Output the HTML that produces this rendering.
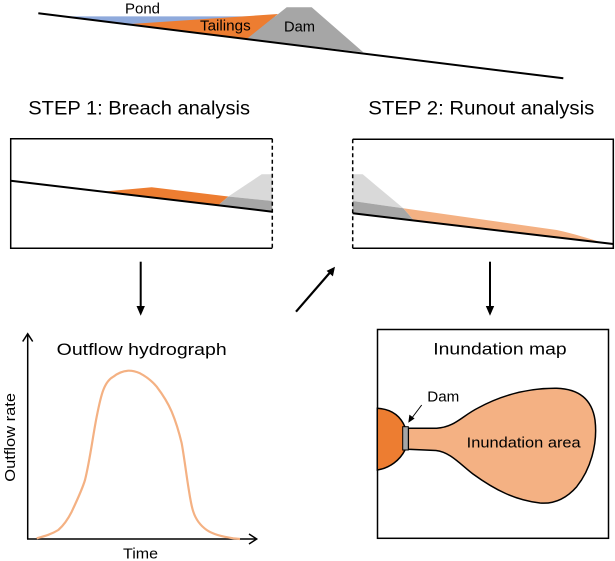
<!DOCTYPE html>
<html>
<head>
<meta charset="utf-8">
<style>
  html, body { margin:0; padding:0; background:#fff; }
  svg { display:block; }
  text { font-family: "Liberation Sans", sans-serif; fill:#000; }
</style>
</head>
<body>
<svg width="615" height="561" viewBox="0 0 615 561" xmlns="http://www.w3.org/2000/svg">
  <!-- ===== Top diagram ===== -->
  <polygon points="64,16.4 278,16.4 246.7,39.1 64,16.6" fill="#8FAADC"/>
  <polygon points="126.7,24.3 278,14 246.7,39.1" fill="#ED7D31"/>
  <polygon points="286.7,7.3 311.7,7.3 363.3,52.3 246.7,39.1" fill="#A6A6A6"/>
  <line x1="38.3" y1="13.3" x2="563.3" y2="78.3" stroke="#000" stroke-width="2"/>
  <text x="125" y="13.5" font-size="14.7" textLength="35" lengthAdjust="spacingAndGlyphs">Pond</text>
  <text x="200" y="30.7" font-size="14.7" textLength="50.7" lengthAdjust="spacingAndGlyphs">Tailings</text>
  <text x="284" y="31.7" font-size="14.7" textLength="31" lengthAdjust="spacingAndGlyphs">Dam</text>

  <!-- ===== Headings ===== -->
  <text x="28.3" y="114.7" font-size="19.3" textLength="221.7" lengthAdjust="spacingAndGlyphs">STEP 1: Breach analysis</text>
  <text x="368.3" y="114.7" font-size="19.3" textLength="226" lengthAdjust="spacingAndGlyphs">STEP 2: Runout analysis</text>

  <!-- ===== Step 1 box ===== -->
  <polygon points="103.3,191.6 151.7,187.3 228.3,196.5 218.3,205.3" fill="#ED7D31"/>
  <polygon points="228.3,196.5 261.7,174.3 272.3,174.3 272.3,201 " fill="#D9D9D9"/>
  <polygon points="228.3,196.5 272.3,201 272.3,211.7 218.3,205.3" fill="#A6A6A6"/>
  <line x1="10.7" y1="180.7" x2="272.3" y2="211.7" stroke="#000" stroke-width="2"/>
  <polyline points="272.3,138.7 10.7,138.7 10.7,248.3 272.3,248.3" fill="none" stroke="#000" stroke-width="1.5"/>
  <line x1="272.3" y1="138.7" x2="272.3" y2="248.3" stroke="#000" stroke-width="1.5" stroke-dasharray="4,3"/>

  <!-- ===== Step 2 box ===== -->
  <polygon points="352.7,174.3 362.7,174.3 403.3,208.3 352.7,201" fill="#D9D9D9"/>
  <polygon points="352.7,201 403.3,208.3 414,220.5 352.7,213.3" fill="#A6A6A6"/>
  <path d="M403.3,208.3 L556.7,230 C575,234 590,239 603.3,242.8 L414,220.5 Z" fill="#F4B183"/>
  <line x1="352.7" y1="213.3" x2="613.3" y2="244" stroke="#000" stroke-width="2"/>
  <polyline points="352.7,139.3 613.3,139.3 613.3,248.3 352.7,248.3" fill="none" stroke="#000" stroke-width="1.5"/>
  <line x1="352.7" y1="139.3" x2="352.7" y2="248.3" stroke="#000" stroke-width="1.5" stroke-dasharray="4,3"/>

  <!-- ===== Arrows ===== -->
  <line x1="140.7" y1="261.7" x2="140.7" y2="307" stroke="#000" stroke-width="2"/>
  <polygon points="136.5,306 144.9,306 140.7,315.7" fill="#000"/>
  <line x1="490" y1="261.7" x2="490" y2="307" stroke="#000" stroke-width="2"/>
  <polygon points="485.8,306 494.2,306 490,315.7" fill="#000"/>
  <line x1="296" y1="311.7" x2="330" y2="272.5" stroke="#000" stroke-width="2.2"/>
  <polygon points="335,266.7 332.9,276.4 326.6,270.9" fill="#000"/>

  <!-- ===== Outflow hydrograph ===== -->
  <line x1="27.7" y1="539" x2="27.7" y2="334" stroke="#000" stroke-width="1.5"/>
  <polyline points="22.7,341.5 27.7,333.8 32.7,341.5" fill="none" stroke="#000" stroke-width="1.5"/>
  <line x1="27" y1="539" x2="256.5" y2="539" stroke="#000" stroke-width="1.5"/>
  <polyline points="249,534 256.7,539 249,544" fill="none" stroke="#000" stroke-width="1.5"/>
  <path d="M36.7,538.3 C45,536 52,534 58.3,530 C64,525 68,519 71.7,511.7 C78,498 82,490 85,480 C90,460 93,435 96.7,416.7 C99,405 101,396 103.3,390 C106,383 109,379 113.3,376.7 C118,373 123,371 128.3,370.7 C133,370.5 137,372 140,373.3 C147,377 152,381 156.7,386.7 C163,395 168,403 171.7,411.7 C176,422 179,432 181.7,443.3 C184,456 186,472 188.3,486.7 C190,497 191,505 193.3,511.7 C196,520 201,526 206.7,530 C214,535 224,537 233.3,538.3 L240,539" fill="none" stroke="#F4B183" stroke-width="2.2"/>
  <text x="56.7" y="355" font-size="17" textLength="170" lengthAdjust="spacingAndGlyphs">Outflow hydrograph</text>
  <text transform="translate(15,481.7) rotate(-90)" x="0" y="0" font-size="15" textLength="88.7" lengthAdjust="spacingAndGlyphs">Outflow rate</text>
  <text x="123" y="558.5" font-size="15" textLength="35" lengthAdjust="spacingAndGlyphs">Time</text>

  <!-- ===== Inundation map ===== -->
  <rect x="377.5" y="329.5" width="231" height="208.8" fill="none" stroke="#000" stroke-width="1.5"/>
  <text x="433.3" y="354.3" font-size="17" textLength="133.4" lengthAdjust="spacingAndGlyphs">Inundation map</text>
  <path d="M377.3,408.3 C390,409 400,415 405,427 L405,450 C400,460 390,468 377.3,470 Z" fill="#ED7D31" stroke="#000" stroke-width="1.5"/>
  <path d="M408.3,428.3 L436.7,428.3 C455,427 462,416 478,408 C500,396 525,388 556.7,388.3 C580,389 592,400 595,420 C598,445 590,470 576.7,486.7 C565,500 552,504 540,503 C515,500 495,490 473,474 C460,464 450,452 436,450.5 L408.3,449.3 Z" fill="#F4B183" stroke="#000" stroke-width="1.5"/>
  <rect x="402.7" y="426.7" width="5.6" height="23.3" fill="#A6A6A6" stroke="#000" stroke-width="1"/>
  <text x="466.7" y="447.7" font-size="15" textLength="114" lengthAdjust="spacingAndGlyphs">Inundation area</text>
  <text x="427.3" y="401.7" font-size="14.7" textLength="32" lengthAdjust="spacingAndGlyphs">Dam</text>
  <line x1="421.7" y1="405" x2="411.5" y2="418.5" stroke="#000" stroke-width="1"/>
  <polygon points="408.3,422.7 409.4,414.6 414.6,418.5" fill="#000"/>
</svg>
</body>
</html>
